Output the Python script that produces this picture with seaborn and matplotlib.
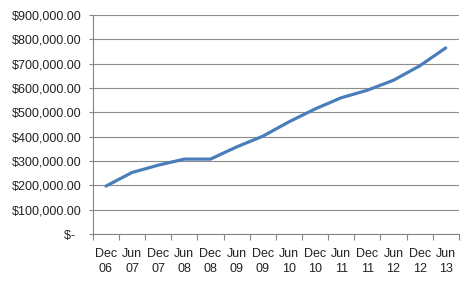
import matplotlib
matplotlib.use("Agg")
import matplotlib.pyplot as plt
import seaborn as sns
import pandas as pd
import numpy as np
from matplotlib.ticker import FuncFormatter, FixedLocator

periods = ["Dec\n06", "Jun\n07", "Dec\n07", "Jun\n08", "Dec\n08", "Jun\n09", "Dec\n09",
           "Jun\n10", "Dec\n10", "Jun\n11", "Dec\n11", "Jun\n12", "Dec\n12", "Jun\n13"]
values = [197000, 253000, 283000, 308000, 308000, 358000, 402000,
          461000, 514000, 560000, 591000, 632000, 691000, 765000]
y_ticks = [0, 100000, 200000, 300000, 400000, 500000, 600000, 700000, 800000, 900000]

sns.set_theme(style="white")
plt.rcParams['font.family'] = ['Liberation Sans', 'DejaVu Sans']

df = pd.DataFrame({"period": periods, "value": values})

fig = plt.figure(figsize=(4.74, 2.84), dpi=100)
ax = fig.add_axes([0.196, 0.176, 0.772, 0.771])
sns.lineplot(data=df, x="period", y="value", ax=ax, color="#4A7EBB", linewidth=2.3, sort=False)

ax.set_xlim(-0.5, len(periods) - 0.5)
ax.set_ylim(0, 900000)
ax.set_yticks(y_ticks)

def fmt(v, pos):
    if v == 0:
        return "$-  "
    return "${:,.2f}".format(v)
ax.yaxis.set_major_formatter(FuncFormatter(fmt))

ax.set_xticks(range(len(periods)))
ax.set_xticklabels(periods)
ax.xaxis.set_minor_locator(FixedLocator(np.arange(-0.5, len(periods), 1.0)))
ax.tick_params(axis="x", which="major", length=0, pad=10, labelsize=9, colors="#222222")
ax.tick_params(axis="x", which="minor", length=4, width=0.8, color="#868686", direction="out", bottom=True)
ax.tick_params(axis="y", which="major", length=3, width=0.8, color="#868686", direction="out", left=True, labelsize=9, labelcolor="#222222", pad=5)
for lab in ax.get_xticklabels():
    lab.set_linespacing(1.35)

ax.grid(axis="y", color="#8C8C8C", linewidth=0.8)
ax.grid(axis="x", visible=False)
ax.set_axisbelow(True)
for s in ["top", "right"]:
    ax.spines[s].set_visible(False)
for s in ["left", "bottom"]:
    ax.spines[s].set_color("#868686")
    ax.spines[s].set_linewidth(0.8)
ax.set_xlabel("")
ax.set_ylabel("")

fig.savefig("out.png", dpi=100)
